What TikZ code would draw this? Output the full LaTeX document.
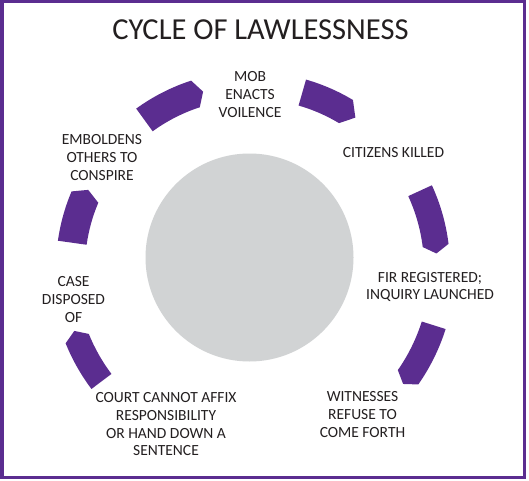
\documentclass[tikz,border=0pt]{standalone}
\usepackage{fontspec}
\setmainfont{Carlito}
\definecolor{lawpurple}{HTML}{5B2D90}
\definecolor{circlegray}{HTML}{D1D3D4}
\definecolor{inkblack}{HTML}{231F20}
\newcommand\cycseg[5]{%
  \pgfmathsetmacro\rmid{(#4+#5)/2}%
  \fill[segfill] (#1:#5pt) arc[start angle=#1, end angle=#2, radius=#5pt]
     -- (#3:\rmid pt) -- (#2:#4pt)
     arc[start angle=#2, end angle=#1, radius=#4pt] -- cycle;}
\begin{document}
\begin{tikzpicture}[x=1pt,y=1pt,
  segfill/.style={fill=lawpurple},
  lbl/.style={align=center, inner sep=0pt, text=inkblack,
    font={\fontsize{15.5}{17.7}\selectfont}},
  ttl/.style={inner sep=0pt, text=inkblack,
    font={\fontsize{30.5}{34}\selectfont}}]
\useasboundingbox (0,0) rectangle (529,480);
\fill[white] (0,0) rectangle (529,480);
\draw[lawpurple, line width=3.5pt] (1.75,2.5) rectangle (524.5,478.25);
\node[ttl, anchor=base] (title) at (260.5,440) {CYCLE OF LAWLESSNESS};
\fill[circlegray] (249.5,222.5) circle[radius=104pt];
\begin{scope}[shift={(252,212)}]
  \cycseg{126}{108}{105.5}{169}{197}
  \cycseg{74}{59}{55.5}{169}{196}
  \cycseg{24.7}{7}{4.5}{172}{198}
  \cycseg{-17.5}{-35}{-37.5}{178}{203}
  \cycseg{217}{202}{199.5}{176}{201}
  \cycseg{172}{157}{154.5}{167}{196}
\end{scope}
\node[lbl] (mob) at (250,385.5) {MOB\\ENACTS\\VOILENCE};
\node[lbl] (killed) at (393.5,327) {CITIZENS KILLED};
\node[lbl] (fir) at (430,193) {FIR REGISTERED;\\INQUIRY LAUNCHED};
\node[lbl] (witness) at (362.5,65.5) {WITNESSES\\REFUSE TO\\COME FORTH};
\node[lbl] (court) at (166,55.7) {COURT CANNOT AFFIX\\RESPONSIBILITY\\OR HAND DOWN A\\SENTENCE};
\node[lbl] (case) at (73.5,180.5) {CASE\\DISPOSED\\OF};
\node[lbl] (embolden) at (102,322.5) {EMBOLDENS\\OTHERS TO\\CONSPIRE};
\end{tikzpicture}
\end{document}
